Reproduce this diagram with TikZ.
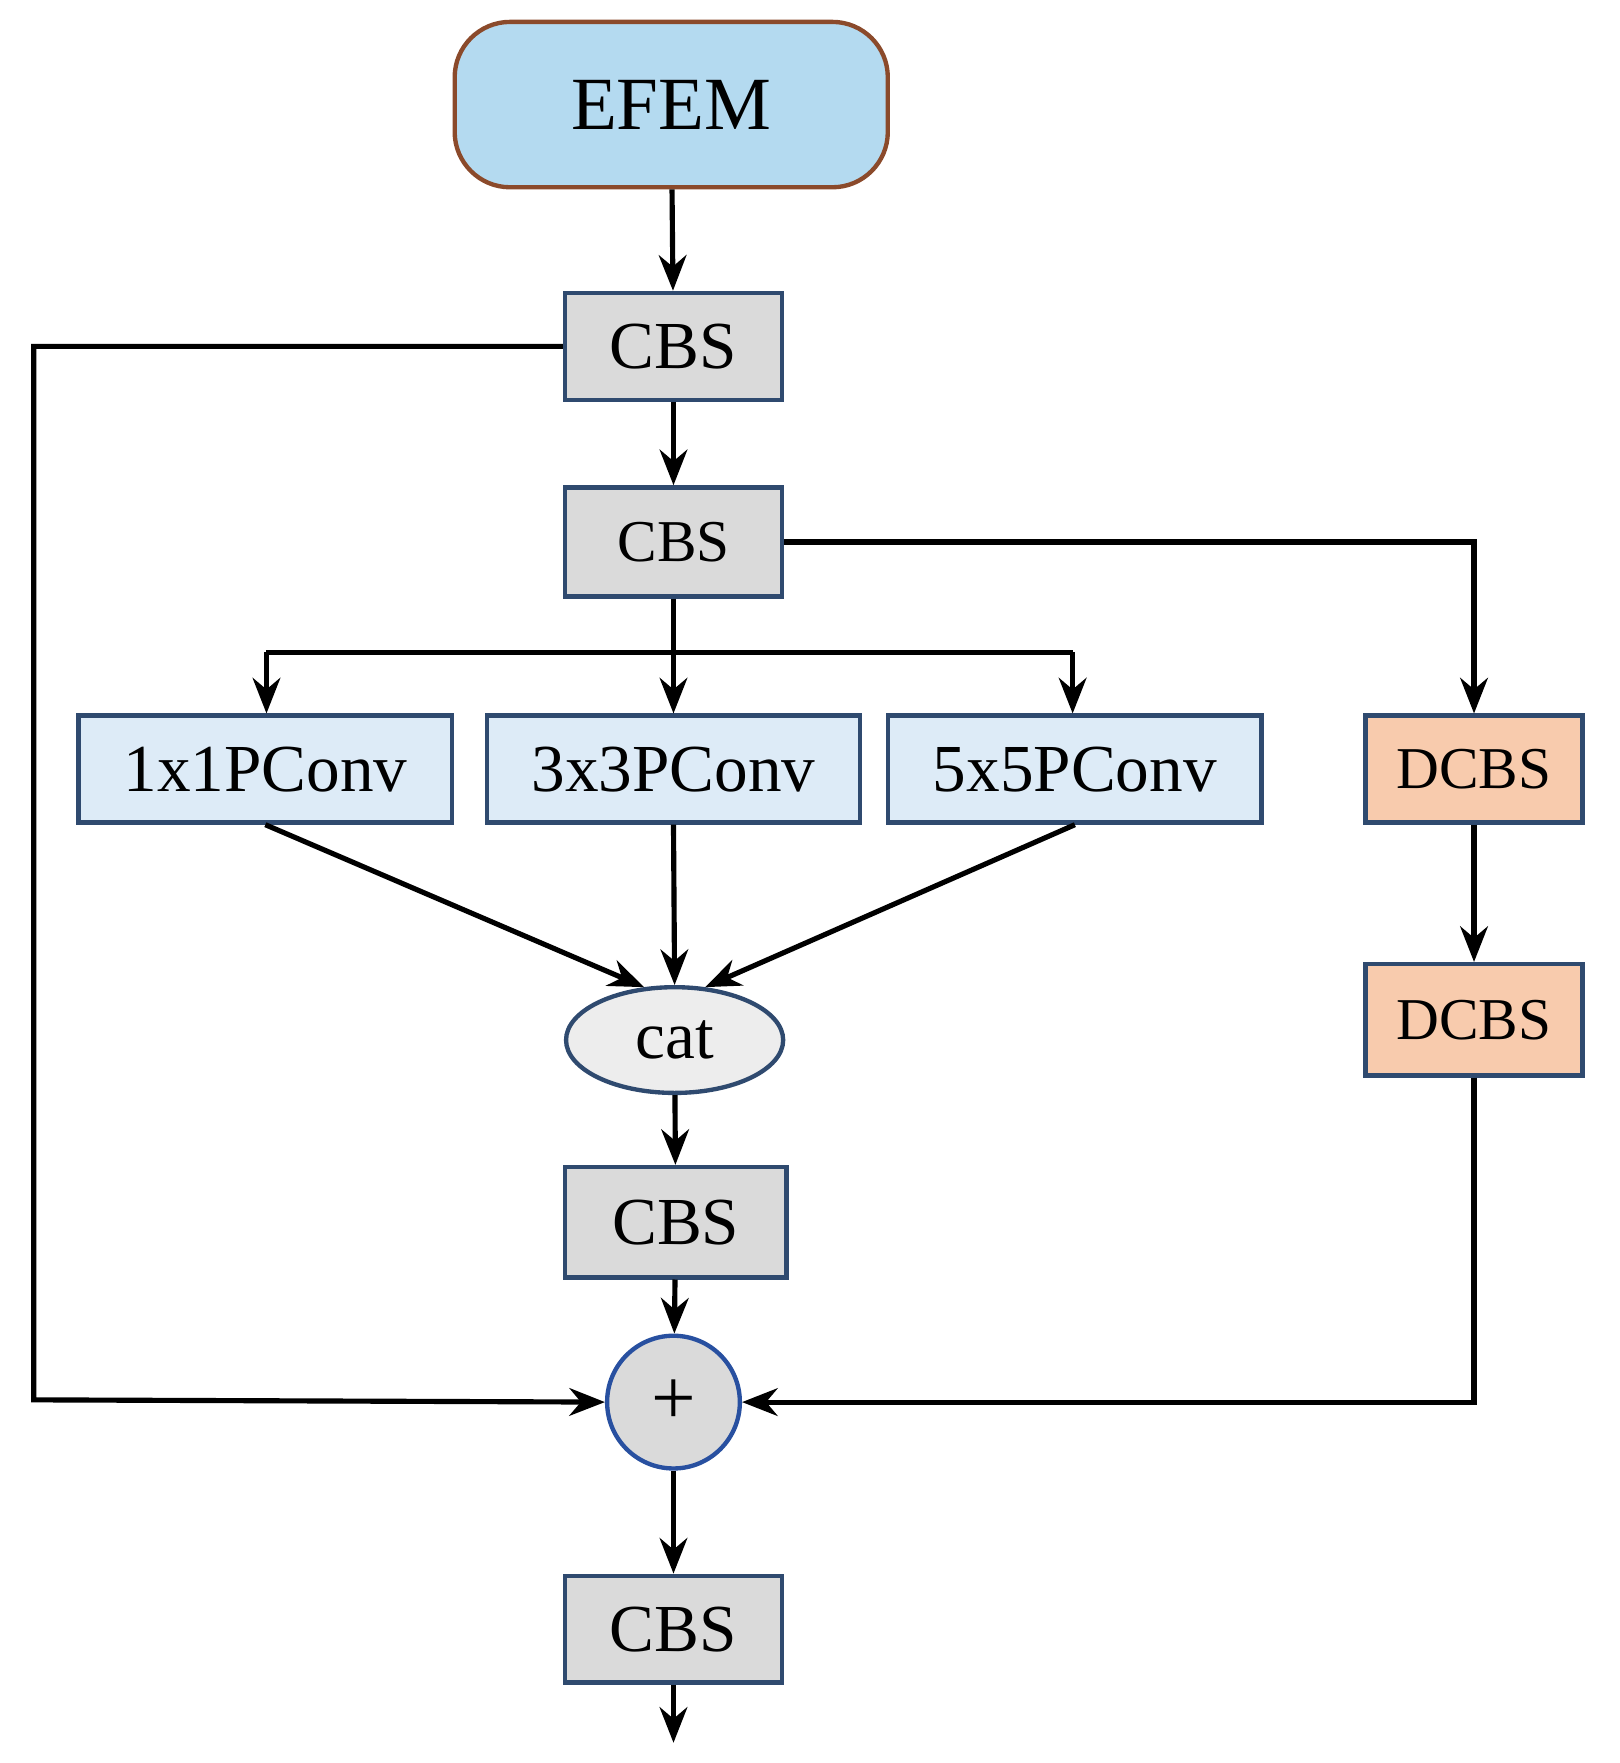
\documentclass[tikz,border=0pt]{standalone}
\usepackage{fontspec}
\setmainfont{Liberation Serif}
\usetikzlibrary{arrows.meta,shapes.geometric}
\definecolor{bord}{HTML}{2F4A6F}
\tikzset{
  box/.style={draw=bord,line width=1.1pt,minimum width=1.93cm,minimum height=0.95cm,inner sep=0pt,font=\fontsize{17}{20}\selectfont},
  cbs/.style={box,fill={rgb,255:red,218;green,218;blue,218}},
  pc/.style={box,fill={rgb,255:red,221;green,235;blue,247},minimum width=3.32cm},
  dc/.style={box,fill={rgb,255:red,248;green,203;blue,173},font=\fontsize{15}{18}\selectfont},
  ar/.style={-{Stealth[length=9pt,width=7pt]},line width=1.3pt},
  ln/.style={line width=1.3pt}
}
\begin{document}
\begin{tikzpicture}[x=0.01cm,y=-0.01cm]
\useasboundingbox (0,0) rectangle (1440,1568);
\node[draw={rgb,255:red,139;green,74;blue,43},fill={rgb,255:red,180;green,218;blue,240},rounded corners=14pt,line width=1.1pt,minimum width=3.85cm,minimum height=1.47cm,font=\fontsize{19}{22}\selectfont] (efem) at (597,93) {EFEM};
\node[cbs] (c1) at (599,308) {CBS};
\node[cbs,minimum height=0.97cm,font=\fontsize{15}{18}\selectfont] (c2) at (599,482) {CBS};
\node[pc] (p1) at (236,684) {1x1PConv};
\node[pc] (p3) at (599,684) {3x3PConv};
\node[pc] (p5) at (956,684) {5x5PConv};
\node[dc] (d1) at (1311,684) {DCBS};
\node[dc,minimum height=0.99cm] (d2) at (1311,907) {DCBS};
\node[ellipse,draw=bord,fill={rgb,255:red,237;green,237;blue,237},line width=1.1pt,minimum width=1.93cm,minimum height=0.94cm,inner sep=0pt,font=\fontsize{17}{20}\selectfont] (cat) at (600,925) {cat};
\node[cbs,minimum width=1.97cm,minimum height=0.98cm] (c3) at (601,1087) {CBS};
\node[circle,draw={rgb,255:red,40;green,80;blue,160},fill={rgb,255:red,218;green,218;blue,218},line width=1.1pt,minimum size=1.18cm,inner sep=0pt,font=\fontsize{20}{22}\selectfont] (plus) at (599,1247) {+};
\node[cbs] (c4) at (599,1449) {CBS};
\coordinate (out) at (599,1550);
\draw[ar] (efem) -- (c1);
\draw[ar] (c1) -- (c2);
\draw[ln] (c2.south) -- (599,580);
\draw[ln] (237,580) -- (954,580);
\draw[ar] (237,580) -- (p1.north-|237,0);
\draw[ar] (599,580) -- (p3.north);
\draw[ar] (954,580) -- (p5.north-|954,0);
\draw[ar] (c2.east) -- (1311,482) -- (d1.north);
\draw[ar] (d1) -- (d2);
\draw[ar] (p1.south) -- (cat.120);
\draw[ar] (p3.south) -- (cat.north);
\draw[ar] (p5.south) -- (cat.60);
\draw[ar] (cat) -- (c3);
\draw[ar] (c3) -- (plus);
\draw[ar] (c1.west) -- (30,308) -- (30,1245) -- (plus.west);
\draw[ar] (d2.south) -- (1311,1247) -- (plus.east);
\draw[ar] (plus) -- (c4);
\draw[ar] (c4) -- (out);
\end{tikzpicture}
\end{document}
